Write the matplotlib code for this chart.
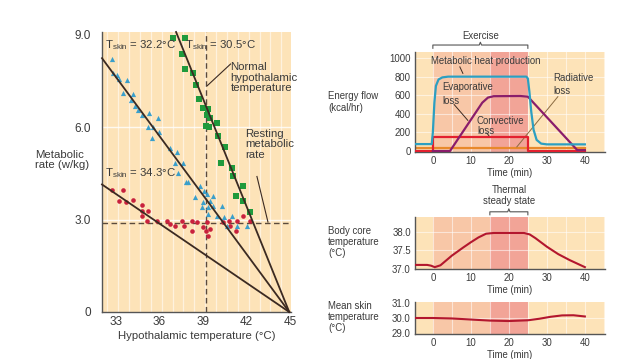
import matplotlib.pyplot as plt
import numpy as np

plt.rcParams["font.family"] = ["Liberation Sans Narrow", "Liberation Sans", "DejaVu Sans"]

TXT = "#3a3a3a"
PEACH = "#fde3b8"
EXER = "#f8c7a7"
STEADY = "#f2a497"
LINE = "#3b2a22"

# ---- left panel: metabolic rate vs hypothalamic temperature -----------------
green_x = [36.93, 37.76, 37.55, 37.76, 38.31, 38.52, 38.72, 39.0, 39.34, 39.28, 39.48,
           39.21, 39.41, 39.97, 40.03, 40.52, 40.24, 41.0, 41.07, 41.76, 41.28, 41.76, 42.24]
green_y = [8.90, 8.90, 8.38, 7.90, 7.77, 7.38, 6.93, 6.63, 6.60, 6.41, 6.31,
           6.05, 5.99, 6.15, 5.70, 5.37, 4.85, 4.69, 4.40, 4.08, 3.75, 3.59, 3.24]

blue_x = [32.72, 32.79, 33.07, 33.21, 33.76, 33.48, 34.17, 34.03, 34.31, 34.52, 34.79,
          35.28, 35.21, 35.55, 35.90, 35.48, 35.97, 36.72, 37.21, 37.07, 37.62, 37.28,
          37.83, 38.79, 37.97, 39.07, 38.45, 39.28, 39.69, 39.0, 39.48, 38.93, 39.34,
          39.69, 40.31, 39.34, 39.97, 40.45, 41.0, 42.03, 40.66, 41.34]
blue_y = [8.22, 7.77, 7.70, 7.57, 7.54, 7.12, 7.09, 6.89, 6.70, 6.57, 6.41,
          6.47, 5.99, 6.02, 6.31, 5.66, 5.83, 5.34, 5.18, 4.85, 4.85, 4.50,
          4.21, 4.08, 4.21, 3.92, 3.72, 3.82, 3.75, 3.56, 3.59, 3.40, 3.40,
          3.43, 3.43, 3.17, 3.11, 3.07, 3.11, 2.78, 2.78, 2.78]

red_x = [32.72, 33.48, 33.21, 33.69, 34.17, 34.79, 34.79, 35.21, 34.79, 35.14, 35.83,
         36.52, 36.72, 37.07, 37.55, 37.69, 38.24, 38.24, 38.59, 39.28, 39.21, 39.48,
         39.34, 39.0, 40.38, 40.79, 40.86, 41.28, 41.34, 41.76, 42.24]
red_y = [3.95, 3.95, 3.59, 3.56, 3.62, 3.46, 3.27, 3.27, 3.11, 2.95, 2.95,
         2.95, 2.85, 2.78, 2.95, 2.78, 2.95, 2.62, 2.91, 2.91, 2.62, 2.69,
         2.46, 2.75, 2.91, 2.95, 2.78, 2.62, 2.95, 3.11, 2.95]

# fitted lines: (x start, x end), (y start, y end)
fit_red = ([32.03, 44.95], [4.14, 0.0])
fit_blue = ([32.03, 44.95], [8.24, 0.0])
fit_green = ([37.14, 44.95], [9.09, 0.0])

normal_temp = 39.2
resting_rate = 2.88

# ---- right panels: exercise time course ------------------------------------
t_met = [-4.7, -0.3, 0.0, 0.4, 0.8, 1.5, 2.5, 4.0, 24.6, 25.0, 25.4, 25.9, 26.5, 27.3, 28.5, 30.0, 40.0]
met = [75, 75, 200, 520, 700, 770, 792, 800, 800, 780, 640, 420, 230, 120, 80, 72, 72]

t_evap = [0.0, 4.5, 13.0, 14.5, 16.0, 23.0, 25.0, 38.0, 40.0]
evap = [0, 0, 520, 575, 590, 592, 585, 10, 10]

t_conv = [-4.7, 0.0, 0.0, 25.0, 25.0, 40.0]
conv = [0, 0, 150, 150, 0, 0]

t_rad = [-4.7, 40.0]
rad = [32, 32]

t_core = [-4.7, -1.5, -0.5, 0.5, 2, 5, 8, 10, 12, 14, 16, 20, 24, 25.5, 27, 30, 33, 36, 40]
core = [37.11, 37.11, 37.09, 37.05, 37.10, 37.36, 37.58, 37.72, 37.85, 37.95, 37.97, 37.97,
        37.97, 37.93, 37.83, 37.60, 37.40, 37.24, 37.05]

t_skin = [-4.7, 0, 5, 10, 15, 20, 25, 28, 31, 34, 37, 40]
skin = [30.0, 30.0, 29.97, 29.9, 29.83, 29.8, 29.85, 29.95, 30.08, 30.17, 30.18, 30.1]

exercise = (0, 25)
steady = (15, 25)

fig = plt.figure(figsize=(6.38, 3.59), dpi=100)
fig.patch.set_facecolor("white")


def px(x0, y0, x1, y1):
    # pixel box -> figure fraction rect
    return [x0 / 638, 1 - y1 / 359, (x1 - x0) / 638, (y1 - y0) / 359]


def style(ax, fs):
    for s in ("top", "right"):
        ax.spines[s].set_visible(False)
    for s in ("left", "bottom"):
        ax.spines[s].set_color("#555555")
        ax.spines[s].set_linewidth(1.0)
    ax.tick_params(length=0, labelsize=fs, colors=TXT, pad=3)


FS_L = 8.2   # left panel annotations
FS_R = 6.9   # right panel text

# left axes
ax = fig.add_axes(px(102, 32, 291, 312))
ax.set_facecolor(PEACH)
ax.set_xlim(32.03, 45.07)
ax.set_ylim(0, 9.09)
for gx in np.arange(32.4, 45.0, 0.75):
    ax.axvline(gx, color="white", lw=0.9, alpha=0.55, zorder=0)
for gy in (3.0, 6.0):
    ax.axhline(gy, color="white", lw=1.0, alpha=0.8, zorder=0)
style(ax, 8.5)
ax.set_xticks([33, 36, 39, 42, 45])
ax.set_yticks([0, 3, 6, 9])
ax.set_yticklabels(["0", "3.0", "6.0", "9.0"])
ax.tick_params(axis="y", pad=8)

ax.axhline(resting_rate, color="#5b4a3c", lw=1.0, ls=(0, (4, 2.5)), zorder=1)
ax.axvline(normal_temp, color="#5b4a3c", lw=1.0, ls=(0, (4, 2.5)), zorder=1)

ax.scatter(red_x, red_y, marker="o", s=11, color="#c8213d", lw=0, zorder=2)
ax.scatter(blue_x, blue_y, marker="^", s=14, color="#3a9fcb", lw=0, zorder=2)
ax.scatter(green_x, green_y, marker="s", s=16, color="#1f9a3c", lw=0, zorder=2)
for fx, fy in (fit_red, fit_blue, fit_green):
    ax.plot(fx, fy, color=LINE, lw=1.3, zorder=3, clip_on=False)

sk = "T$_\\mathregular{skin}$"
ax.text(32.25, 8.68, sk + " = 32.2°C", fontsize=FS_L, color=TXT, va="center")
ax.text(37.75, 8.68, sk + " = 30.5°C", fontsize=FS_L, color=TXT, va="center")
ax.text(32.25, 4.5, sk + " = 34.3°C", fontsize=FS_L, color=TXT, va="center")
ax.text(40.9, 8.1, "Normal\nhypothalamic\ntemperature", fontsize=FS_L, color=TXT,
        va="top", linespacing=1.05)
ax.plot([40.9, 39.3], [8.05, 7.35], color=LINE, lw=0.8)
ax.text(41.9, 5.95, "Resting\nmetabolic\nrate", fontsize=FS_L, color=TXT,
        va="top", linespacing=1.05)
ax.plot([42.72, 43.48], [4.4, 2.92], color=LINE, lw=0.8)

fig.text(35 / 638, 1 - 160 / 359, "Metabolic\nrate (w/kg)", fontsize=8.2, color=TXT,
         va="center", ha="left", linespacing=1.1)
ax.set_xlabel("Hypothalamic temperature (°C)", fontsize=8.2, color=TXT, labelpad=2)

# right panels
XL = (-4.7, 45.3)


def bands(a):
    a.set_facecolor(PEACH)
    a.axvspan(*exercise, color=EXER, lw=0, zorder=0)
    a.axvspan(*steady, color=STEADY, lw=0, zorder=0)
    for gx in np.arange(-5, 46, 5):
        a.axvline(gx, color="white", lw=0.8, alpha=0.55, zorder=0.5)


# energy flow
a1 = fig.add_axes(px(415, 52, 605, 152))
a1.set_xlim(*XL)
a1.set_ylim(-10, 1065)
bands(a1)
for gy in range(200, 1001, 200):
    a1.axhline(gy, color="white", lw=0.8, alpha=0.55, zorder=0.5)
style(a1, FS_R)
a1.set_xticks([0, 10, 20, 30, 40])
a1.set_yticks([0, 200, 400, 600, 800, 1000])
a1.plot(t_rad, rad, color="#e8892b", lw=1.6, zorder=2)
a1.plot(t_conv, conv, color="#e3202f", lw=1.6, zorder=3)
a1.plot(t_evap, evap, color="#8a1d6b", lw=1.6, zorder=3)
a1.plot(t_met, met, color="#2c9fc1", lw=1.6, zorder=4)
a1.set_xlabel("Time (min)", fontsize=FS_R, color=TXT, labelpad=1)

a1.text(-0.6, 968, "Metabolic heat production", fontsize=FS_R, color=TXT, va="center")
a1.plot([7.1, 7.9], [905, 835], color=LINE, lw=0.7)
a1.text(2.6, 688, "Evaporative", fontsize=FS_R, color=TXT, va="center")
a1.text(2.6, 538, "loss", fontsize=FS_R, color=TXT, va="center")
a1.plot([5.6, 9.2], [500, 330], color=LINE, lw=0.7)
a1.text(11.6, 323, "Convective", fontsize=FS_R, color=TXT, va="center")
a1.text(11.6, 215, "loss", fontsize=FS_R, color=TXT, va="center")
a1.plot([14.2, 15.0], [195, 150], color=LINE, lw=0.7)
a1.text(31.8, 785, "Radiative", fontsize=FS_R, color=TXT, va="center")
a1.text(31.8, 645, "loss", fontsize=FS_R, color=TXT, va="center")
a1.plot([32.9, 22.1], [585, 45], color="#8a6a40", lw=0.7)

# exercise bracket
a1.plot([0, 0, 12.2, 12.5, 12.8, 25, 25], [1105, 1140, 1140, 1170, 1140, 1140, 1105],
        color="#555555", lw=0.8, clip_on=False)
a1.text(12.5, 1240, "Exercise", fontsize=FS_R, color=TXT, ha="center", va="center")
fig.text(328 / 638, 1 - 102 / 359, "Energy flow\n(kcal/hr)", fontsize=FS_R, color=TXT,
         va="center", ha="left", linespacing=1.15)

# body core temperature
a2 = fig.add_axes(px(415, 217, 605, 269))
a2.set_xlim(*XL)
a2.set_ylim(37.0, 38.4)
bands(a2)
for gy in (37.5, 38.0):
    a2.axhline(gy, color="white", lw=0.8, alpha=0.55, zorder=0.5)
style(a2, FS_R)
a2.set_xticks([0, 10, 20, 30, 40])
a2.set_yticks([37.0, 37.5, 38.0])
a2.set_yticklabels(["37.0", "37.5", "38.0"])
a2.plot(t_core, core, color="#b3172e", lw=1.5, zorder=3)
a2.set_xlabel("Time (min)", fontsize=FS_R, color=TXT, labelpad=1)
a2.plot([15, 15, 19.7, 20, 20.3, 25, 25], [38.46, 38.54, 38.54, 38.62, 38.54, 38.54, 38.46],
        color="#555555", lw=0.8, clip_on=False)
a2.text(20, 38.97, "Thermal\nsteady state", fontsize=FS_R, color=TXT, ha="center",
        va="center", linespacing=1.1)
fig.text(328 / 638, 1 - 242 / 359, "Body core\ntemperature\n(°C)", fontsize=FS_R, color=TXT,
         va="center", ha="left", linespacing=1.1)

# mean skin temperature
a3 = fig.add_axes(px(415, 302, 605, 334))
a3.set_xlim(*XL)
a3.set_ylim(28.95, 31.05)
bands(a3)
a3.axhline(30.0, color="white", lw=0.8, alpha=0.55, zorder=0.5)
style(a3, FS_R)
a3.set_xticks([0, 10, 20, 30, 40])
a3.set_yticks([29.0, 30.0, 31.0])
a3.set_yticklabels(["29.0", "30.0", "31.0"])
a3.plot(t_skin, skin, color="#b3172e", lw=1.5, zorder=3)
a3.set_xlabel("Time (min)", fontsize=FS_R, color=TXT, labelpad=1)
fig.text(328 / 638, 1 - 317 / 359, "Mean skin\ntemperature\n(°C)", fontsize=FS_R, color=TXT,
         va="center", ha="left", linespacing=1.1)

fig.savefig("out.png", dpi=100)
